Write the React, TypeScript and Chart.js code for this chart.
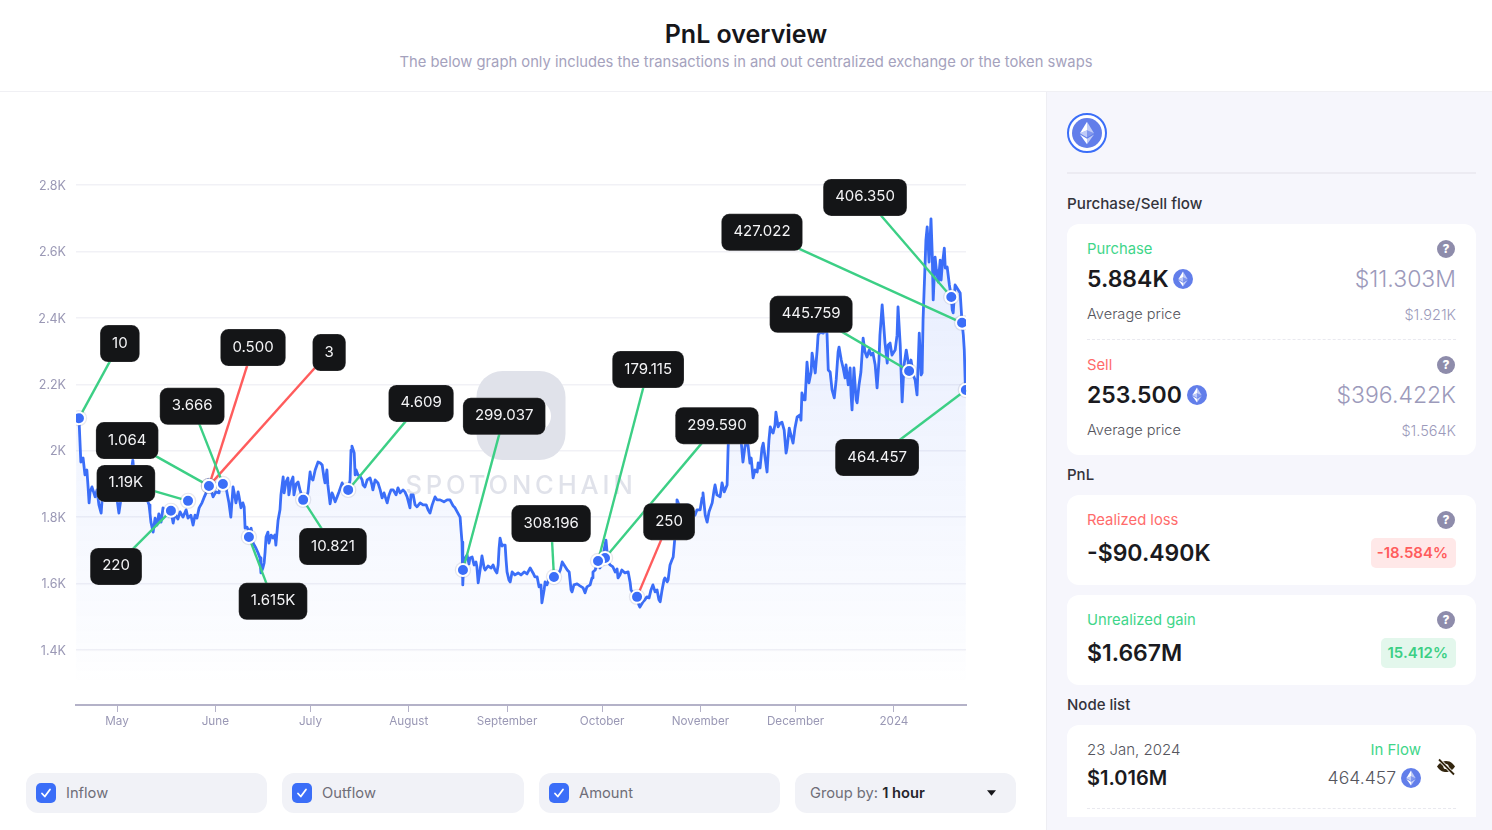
import React, { useEffect, useRef } from "react";
import { Chart, registerables } from "chart.js";

Chart.register(...registerables);

// Days counted from 1 May 2023, prices in USD
const springDays = [-12.9,-12,-11.7,-11.4,-10.7,-10.1,-9.5,-9.1,-8.8,-8.5,-7.9,-6.9,-6.3,-5.7,-5,-4.7,-3.8,-2.2,-1.3,-0.3,0.6,1.3,2.5,4.1,5,5.7,7.3,8.8,9.5,10.1,10.4,10.7,11.4,12,12.6,13.2,13.9,14.5,15.5,16.4,17,17.7,18.3,19.2,19.9,20.8,21.8,22.4,23.3,24,24.6,25.2,25.9,26.8,27.4,28.1,28.7,29.3,30.3,31.2,32.2,32.8,33.4,34.4,35.3,35.9,36.6,37.2,37.5,38.2,38.5,39.1,39.7,40.1,40.4,41,41.6,42.3,42.9,43.8,44.5,45.1,45.4,46,46.4,46.7,47,47.6,47.9,48.6,49.2,49.8,50.1,50.8,51.4,51.7,52.4,52.7,53.3,53.9,54.2,54.9,55.5,55.8,56.5,57.1,57.7,58,58.7,59.3,59.9,60.2,60.9];
const springPrices = [2098,2098,2032,1966,1978,1927,1942,1888,1843,1876,1891,1861,1882,1837,1812,1852,1882,1891,1867,1876,1812,1858,1876,1912,1972,1897,1882,1861,1852,1837,1812,1785,1755,1797,1776,1810,1785,1828,1816,1803,1819,1782,1810,1794,1816,1800,1822,1797,1806,1776,1806,1797,1828,1843,1858,1873,1912,1891,1861,1876,1873,1912,1900,1888,1843,1800,1891,1861,1843,1876,1861,1828,1843,1831,1767,1770,1755,1767,1722,1707,1692,1677,1632,1647,1662,1695,1740,1755,1722,1746,1737,1746,1716,1791,1822,1867,1921,1873,1906,1918,1867,1906,1921,1867,1900,1906,1882,1873,1852,1837,1867,1873,1936];

const summerDays = [61.2,61.8,62.5,63.4,64.1,64.7,65.3,65.6,66.2,66.5,67.2,67.8,68.1,68.8,69.4,70,71,71.9,72.9,73.5,73.8,74.1,74.8,75.1,75.4,76,76.6,77.3,77.6,78.2,78.9,79.8,80.4,80.7,81.4,82.3,83,83.6,84.2,85.2,85.8,86.4,87.1,88,88.6,89.3,90.2,90.8,91.5,92.4,92.7,93.4,94,94.6,95.6,96.5,97.5,98.1,98.7,99.4,100.3,100.9,101.9,103.1,104.1,105,106,106.6,107.5,108.2,108.5,108.8,109,109.1,109.3,109.8,110.4,111,111.3,112,112.6,113.2,113.5,113.9,114.5,115.1,115.8,116.1,117,118,118.6,119.2,119.8,120.2,120.5,120.8,121.4,121.7,122.4,122.7,123,123.6,124,124.6,125.5,126.5,127.4,128.4,129.3,130.3,131.2,131.8,132.5,133.1,133.7,134,134.7,135,135.6,136.3,137.2,137.8,138.8,139.8,140.4,141,142,142.6,143.2,143.5,144.1,145.1,146,147,147.6,148.2,149.2,149.8,150.1,150.8,151.7,152.3];
const summerPrices = [1918,1912,1942,1966,1963,1957,1918,1903,1942,1897,1840,1873,1867,1846,1861,1876,1903,1882,1882,1912,2002,2014,1993,1927,1942,1927,1924,1912,1897,1891,1912,1918,1897,1882,1912,1903,1882,1858,1873,1843,1867,1882,1882,1867,1888,1873,1882,1876,1861,1828,1867,1867,1837,1831,1843,1837,1837,1822,1812,1837,1861,1852,1852,1846,1852,1852,1834,1828,1812,1800,1761,1725,1656,1596,1656,1677,1686,1659,1677,1680,1656,1665,1650,1602,1641,1683,1647,1641,1653,1647,1656,1641,1632,1656,1707,1737,1713,1716,1716,1671,1635,1611,1605,1635,1626,1632,1626,1635,1629,1647,1632,1620,1620,1590,1596,1542,1581,1605,1596,1617,1626,1620,1620,1641,1665,1656,1641,1635,1581,1575,1596,1599,1593,1587,1572,1590,1596,1617,1635,1641,1668,1647];

const autumnDays = [153.3,154.2,154.5,154.9,155.5,156.4,157.1,157.7,158,158.6,159.2,160.2,161.2,161.8,162.1,162.7,163.4,164,164.6,164.9,165.9,166.5,167.1,167.8,168.4,169,169.7,170.3,170.9,171.3,171.9,172.5,172.8,173.5,173.8,174.4,175,175.4,176,176.3,176.6,177.6,178.8,180.1,181.3,182.3,182.9,183.9,184.5,184.8,185.5,186.1,186.7,187.7,188.3,188.6,189.2,190.2,190.8,191.5,192.4,192.7,193,194.3,195.9,196.8,197.4,198.1,199,199.6,200,200.6,201.2,201.9,202.2,202.8,203.4,203.8,204.4,205,205.6,206,206.6,206.9,207.5,207.8,208.5,209.1,209.7,210.4,211,211.3,212,212.3,213.2,213.8,214.5];
const autumnPrices = [1686,1731,1701,1665,1656,1650,1635,1644,1617,1626,1641,1632,1635,1605,1581,1572,1575,1560,1535,1529,1545,1551,1560,1557,1581,1596,1575,1581,1551,1545,1581,1611,1617,1605,1611,1656,1671,1680,1746,1761,1852,1828,1822,1837,1816,1806,1822,1822,1858,1873,1806,1785,1816,1843,1882,1897,1867,1861,1903,1876,1897,2002,2077,2092,2077,2032,1966,2017,2017,1963,1978,1918,1942,1936,1963,1948,2008,2023,1978,1936,2032,2072,2056,2053,2077,2116,2072,2083,2086,2062,1993,2008,2068,2056,2023,2068,2102];

const winterDays = [215.4,215.7,216,216.7,217,217.6,218.2,218.9,219.2,219.8,220.2,220.8,221.1,221.7,222.7,223.3,223.9,224.3,224.9,225.5,226.2,226.8,227.4,227.7,228.4,229,229.6,229.9,230.6,231.2,231.5,231.8,232.4,233.1,233.4,234,234.6,235.3,235.9,236.5,237.2,237.8,238.4,239.1,239.7,240.3,240.6,241.3,241.9,242.2,242.9,243.2,243.8,244.4,245.4,246,246.3,247,247.3,247.6,248.2,248.9,249.5,249.8,250.4,251.1,251.7,252.3,252.7,253,253.6,253.9,254.2,254.8,255.1,255.5,256.1,256.7,257.1,257.4,258,258.4,259,259.6,259.9,260.2,260.9,261.2,261.8,262.5,263.1,263.4,263.7,264.3,265.3,265.9,266.5,266.9,267.2,267.5,267.7];
const winterPrices = [2108,2092,2174,2153,2153,2267,2204,2237,2294,2258,2234,2303,2348,2357,2354,2363,2354,2243,2237,2183,2159,2213,2297,2312,2273,2249,2219,2258,2198,2249,2168,2123,2249,2153,2144,2198,2237,2339,2297,2282,2303,2288,2294,2258,2189,2273,2348,2439,2363,2324,2264,2318,2324,2288,2303,2348,2433,2318,2228,2147,2258,2303,2267,2240,2273,2228,2213,2168,2273,2354,2228,2234,2394,2553,2634,2674,2568,2698,2589,2454,2583,2544,2508,2574,2514,2553,2610,2550,2553,2499,2463,2424,2415,2499,2484,2475,2385,2348,2303,2204,2183];

const days = [...springDays, ...summerDays, ...autumnDays, ...winterDays];
const prices = [...springPrices, ...summerPrices, ...autumnPrices, ...winterPrices];

// Chart nodes
const nodeLabels = ["10","220","1.19K","1.064","0.500","3","3.666","1.615K","10.821","4.609","299.037","308.196","299.590","179.115","250","445.759","406.350","427.022","464.457"];
const nodeDays = [-12,17,22.4,29,29,29,33.4,41.6,58.7,72.9,109.1,137.8,153.9,151.7,164,249.8,263.1,266.5,267.7];
const nodePrices = [2098,1819,1849,1894,1894,1894,1900,1740,1852,1882,1641,1620,1677,1668,1560,2240,2463,2385,2183];
const nodeFlows = ["in","in","in","in","out","out","in","in","in","in","in","in","in","in","out","in","in","in","in"];
const calloutDays = [0.9,-0.3,2.8,3.2,42.9,66.9,23.7,49.2,68.1,95.9,122.1,136.9,189.2,167.5,174.1,218.9,235.9,203.4,239.7];
const calloutPrices = [2324,1653,1903,2032,2312,2297,2135,1548,1713,2144,2105,1782,2077,2246,1788,2412,2764,2659,1981];

const monthDays = [0,31,61,92,123,153,184,214,245];
const monthLabels = ["May","June","July","August","September","October","November","December","2024"];
const priceTicks = [1400,1600,1800,2000,2200,2400,2600,2800];
const priceTickLabels = ["1.4K","1.6K","1.8K","2K","2.2K","2.4K","2.6K","2.8K"];

const BLUE = "#3b6ef8";
const GREEN = "#3ccf85";
const RED = "#ff5c5c";
const FONT = "Inter, sans-serif";

const overlayPlugin = {
  id: "pnlOverlay",
  beforeDatasetsDraw(chart: any) {
    const { ctx, chartArea } = chart;
    const cx = (chartArea.left + chartArea.right) / 2;
    ctx.save();
    ctx.fillStyle = "#e0e2ea";
    ctx.beginPath();
    ctx.roundRect(cx - 44.5, 279, 89, 89, 26);
    ctx.fill();
    ctx.fillStyle = "#ffffff";
    ctx.beginPath();
    ctx.arc(cx + 14, 324, 16, 0, Math.PI * 2);
    ctx.fill();
    ctx.fillStyle = "#e0e2ea";
    ctx.font = `500 25.5px ${FONT}`;
    ctx.textAlign = "center";
    ctx.textBaseline = "middle";
    ctx.letterSpacing = "3.9px";
    ctx.fillText("SPOTONCHAIN", cx, 394.5);
    ctx.restore();
  },
  afterDatasetDraw(chart: any, args: any) {
    if (args.index !== 0) return;
    const { ctx, scales, chartArea } = chart;
    ctx.save();
    ctx.lineWidth = 2.4;
    nodeLabels.forEach((_, i) => {
      ctx.strokeStyle = nodeFlows[i] === "in" ? GREEN : RED;
      ctx.beginPath();
      ctx.moveTo(scales.x.getPixelForValue(calloutDays[i]), scales.y.getPixelForValue(calloutPrices[i]));
      ctx.lineTo(scales.x.getPixelForValue(nodeDays[i]), scales.y.getPixelForValue(nodePrices[i]));
      ctx.stroke();
    });
    // soft halo under the node markers
    ctx.beginPath();
    ctx.rect(chartArea.left, chartArea.top, chartArea.right - chartArea.left, chartArea.bottom - chartArea.top);
    ctx.clip();
    ctx.fillStyle = "rgba(110,110,140,0.16)";
    nodeLabels.forEach((_, i) => {
      ctx.beginPath();
      ctx.arc(scales.x.getPixelForValue(nodeDays[i]), scales.y.getPixelForValue(nodePrices[i]), 8.2, 0, Math.PI * 2);
      ctx.fill();
    });
    ctx.restore();
  },
  afterDatasetsDraw(chart: any) {
    const { ctx, scales } = chart;
    ctx.save();
    ctx.font = `400 15px ${FONT}`;
    ctx.textAlign = "center";
    ctx.textBaseline = "middle";
    nodeLabels.forEach((label, i) => {
      const x = scales.x.getPixelForValue(calloutDays[i]);
      const y = scales.y.getPixelForValue(calloutPrices[i]);
      const w = ctx.measureText(label).width + 24;
      ctx.fillStyle = "#141517";
      ctx.strokeStyle = "rgba(255,255,255,0.18)";
      ctx.lineWidth = 1;
      ctx.beginPath();
      ctx.roundRect(x - w / 2, y - 18, w, 37, 8);
      ctx.fill();
      ctx.stroke();
      ctx.fillStyle = "#f4f4f6";
      ctx.fillText(label, x, y);
    });
    ctx.restore();
  },
};

function PnlChart() {
  const ref = useRef<HTMLCanvasElement>(null);
  useEffect(() => {
    const chart = new Chart(ref.current as HTMLCanvasElement, {
      type: "line",
      plugins: [overlayPlugin],
      data: {
        datasets: [
          {
            data: days.map((d, i) => ({ x: d, y: prices[i] })),
            borderColor: BLUE,
            borderWidth: 2.8,
            borderJoinStyle: "round",
            pointRadius: 0,
            tension: 0,
            fill: "start",
            order: 2,
            backgroundColor: (c: any) => {
              const area = c.chart.chartArea;
              if (!area) return "transparent";
              const g = c.chart.ctx.createLinearGradient(0, area.top + 100, 0, area.bottom - 20);
              g.addColorStop(0, "rgba(59,110,248,0.13)");
              g.addColorStop(0.9, "rgba(59,110,248,0.02)");
              g.addColorStop(1, "rgba(59,110,248,0)");
              return g;
            },
          },
          {
            data: nodeDays.map((d, i) => ({ x: d, y: nodePrices[i] })),
            showLine: false,
            pointRadius: 6,
            pointBorderWidth: 2,
            pointBackgroundColor: BLUE,
            pointBorderColor: "#ffffff",
            order: 1,
          },
        ],
      } as any,
      options: {
        animation: false,
        responsive: false,
        layout: { padding: { left: 0, right: 80, top: 26.57, bottom: 0 } },
        plugins: { legend: { display: false }, title: { display: false }, tooltip: { enabled: false } },
        scales: {
          x: {
            type: "linear",
            min: -12.93,
            max: 267.74,
            afterBuildTicks: (s: any) => { s.ticks = monthDays.map((value) => ({ value })); },
            afterFit: (s: any) => { s.height = 27; },
            grid: { drawOnChartArea: false, drawTicks: true, tickLength: 7, color: "#b4b2c8" },
            border: { display: true, color: "#b4b2c8", width: 2 },
            ticks: {
              autoSkip: false,
              maxRotation: 0,
              padding: 2,
              color: "#9a98b5",
              font: { family: FONT, size: 11.7 },
              callback: (v: any) => monthLabels[monthDays.indexOf(v)],
            },
          },
          y: {
            type: "linear",
            min: 1234.4,
            max: 3000,
            afterBuildTicks: (s: any) => { s.ticks = priceTicks.map((value) => ({ value })); },
            afterFit: (s: any) => { s.width = 76; },
            grid: { drawTicks: false, color: "#f1f1f6", lineWidth: 1.5 },
            border: { display: false },
            ticks: {
              padding: 10,
              labelOffset: 1,
              color: "#9a98b5",
              font: { family: FONT, size: 12.5 },
              callback: (v: any) => priceTickLabels[priceTicks.indexOf(v)],
            },
          },
        },
      } as any,
    });
    return () => chart.destroy();
  }, []);
  return (
    <canvas
      ref={ref}
      width={1046}
      height={640}
      style={{ position: "absolute", left: 0, top: 92, width: 1046, height: 640, display: "block" }}
    />
  );
}

type TextProps = { x?: number; right?: number; y: number; size: number; weight?: number; color: string; children: React.ReactNode };
function T({ x, right, y, size, weight = 400, color, children }: TextProps) {
  return (
    <div
      style={{
        position: "absolute",
        left: x,
        right: right !== undefined ? 1492 - right : undefined,
        top: y,
        transform: "translateY(-50%)",
        fontSize: size,
        fontWeight: weight,
        color,
        whiteSpace: "nowrap",
        lineHeight: 1.2,
      }}
    >
      {children}
    </div>
  );
}

function Box({ x, y, w, h, r = 12, bg = "#fff", extra }: { x: number; y: number; w: number; h: number; r?: number | string; bg?: string; extra?: any }) {
  return <div style={{ position: "absolute", left: x, top: y, width: w, height: h, borderRadius: r, background: bg, ...extra }} />;
}

function EthIcon({ cx, cy, r = 10 }: { cx: number; cy: number; r?: number }) {
  return (
    <svg style={{ position: "absolute", left: cx - r, top: cy - r }} width={r * 2} height={r * 2} viewBox="0 0 32 32">
      <circle cx="16" cy="16" r="16" fill="#627eea" />
      <path d="M16 4v9l7.5 3.3z" fill="#fff" fillOpacity=".6" />
      <path d="M16 4L8.5 16.3 16 13z" fill="#fff" />
      <path d="M16 22.1v5.9l7.5-10.4z" fill="#fff" fillOpacity=".6" />
      <path d="M16 28v-5.9l-7.5-4.5z" fill="#fff" />
      <path d="M16 20.7l7.5-4.4L16 13z" fill="#fff" fillOpacity=".2" />
      <path d="M8.5 16.3l7.5 4.4V13z" fill="#fff" fillOpacity=".6" />
    </svg>
  );
}

function Help({ cx, cy }: { cx: number; cy: number }) {
  return (
    <div
      style={{
        position: "absolute", left: cx - 9, top: cy - 9, width: 18, height: 18, borderRadius: 9,
        background: "#8e8cab", color: "#fff", fontSize: 12, fontWeight: 800, textAlign: "center", lineHeight: "18px",
      }}
    >
      ?
    </div>
  );
}

function Dashed({ y }: { y: number }) {
  return <div style={{ position: "absolute", left: 1087, width: 369, top: y, borderTop: "1px dashed #e9e9ef" }} />;
}

function CheckPill({ x, w, label }: { x: number; w: number; label: string }) {
  return (
    <>
      <Box x={x} y={773} w={w} h={40} bg="#f1f2f7" />
      <div style={{ position: "absolute", left: x + 10, top: 783, width: 20, height: 20, borderRadius: 5, background: BLUE }}>
        <svg width="20" height="20" viewBox="0 0 20 20">
          <path d="M6 10.5l2.8 3L14 6.5" stroke="#fff" strokeWidth="1.8" fill="none" strokeLinecap="round" strokeLinejoin="round" />
        </svg>
      </div>
      <T x={x + 40} y={794} size={14.7} color="#6f6e78">{label}</T>
    </>
  );
}

export default function App() {
  return (
    <div style={{ position: "relative", width: 1492, height: 830, overflow: "hidden", background: "#fff", fontFamily: FONT }}>
      <style>{`html,body{margin:0;padding:0;overflow:hidden;background:#fff}`}</style>

      {/* Header */}
      <div style={{ position: "absolute", left: 0, right: 0, top: 19, textAlign: "center", fontSize: 25, fontWeight: 600, color: "#16161a", lineHeight: "30px" }}>PnL overview</div>
      <div style={{ position: "absolute", left: 0, right: 0, top: 52, textAlign: "center", fontSize: 14.75, color: "#a5a2bd", lineHeight: "20px" }}>
        The below graph only includes the transactions in and out centralized exchange or the token swaps
      </div>
      <Box x={0} y={91} w={1492} h={1} r={0} bg="#f0f0f4" />

      <PnlChart />

      {/* Controls */}
      <CheckPill x={26} w={241} label="Inflow" />
      <CheckPill x={282} w={242} label="Outflow" />
      <CheckPill x={539} w={241} label="Amount" />
      <Box x={795} y={773} w={221} h={40} bg="#f1f2f7" />
      <T x={810} y={794} size={14.7} color="#6f6e78">
        Group by: <span style={{ fontWeight: 600, color: "#25252b" }}>1 hour</span>
      </T>
      <svg style={{ position: "absolute", left: 987, top: 790 }} width="9" height="6" viewBox="0 0 10 6">
        <path d="M0 0h10L5 6z" fill="#16161a" />
      </svg>

      {/* Sidebar */}
      <Box x={1046} y={92} w={446} h={738} r={0} bg="#f6f6fc" extra={{ borderLeft: "1px solid #eeeef3", boxSizing: "border-box" }} />
      <div style={{ position: "absolute", left: 1067, top: 113, width: 40, height: 40, borderRadius: 20, border: "2px solid " + BLUE, boxSizing: "border-box", background: "#fff" }} />
      <EthIcon cx={1087} cy={133} r={15} />
      <Box x={1067} y={172} w={409} h={2} r={0} bg="#ecebf2" />

      <T x={1067} y={204} size={15.2} weight={500} color="#33333b">Purchase/Sell flow</T>
      <Box x={1067} y={224} w={409} h={231} />
      <T x={1087} y={250} size={14.8} color="#3fd68a">Purchase</T>
      <Help cx={1446} cy={249} />
      <T x={1087} y={280} size={23} weight={600} color="#1a1a20">5.884K</T>
      <EthIcon cx={1183} cy={279} />
      <T right={1456} y={280} size={23} weight={300} color="#9c9abb">$11.303M</T>
      <T x={1087} y={315} size={14.6} weight={300} color="#55555d">Average price</T>
      <T right={1456} y={315} size={14.5} weight={300} color="#9c9abb">$1.921K</T>
      <Dashed y={339} />
      <T x={1087} y={366} size={14.8} color="#ff6b6b">Sell</T>
      <Help cx={1446} cy={365} />
      <T x={1087} y={396} size={23} weight={600} color="#1a1a20">253.500</T>
      <EthIcon cx={1197} cy={395} />
      <T right={1456} y={396} size={23} weight={300} color="#9c9abb">$396.422K</T>
      <T x={1087} y={431} size={14.6} weight={300} color="#55555d">Average price</T>
      <T right={1456} y={431} size={14.5} weight={300} color="#9c9abb">$1.564K</T>

      <T x={1067} y={475} size={15} weight={500} color="#33333b">PnL</T>
      <Box x={1067} y={495} w={409} h={90} />
      <T x={1087} y={521} size={14.8} color="#ff6b6b">Realized loss</T>
      <Help cx={1446} cy={520} />
      <T x={1087} y={554} size={23} weight={600} color="#1a1a20">-$90.490K</T>
      <Box x={1371} y={538} w={85} h={30} r={5} bg="#ffe8e8" />
      <T right={1448} y={553} size={15} weight={600} color={RED}>-18.584%</T>

      <Box x={1067} y={595} w={409} h={90} />
      <T x={1087} y={621} size={14.8} color="#3fd68a">Unrealized gain</T>
      <Help cx={1446} cy={620} />
      <T x={1087} y={654} size={23} weight={600} color="#1a1a20">$1.667M</T>
      <Box x={1381} y={638} w={75} h={30} r={5} bg="#e3f7ec" />
      <T right={1448} y={653} size={15} weight={600} color={GREEN}>15.412%</T>

      <T x={1067} y={705} size={15} weight={500} color="#33333b">Node list</T>
      <Box x={1067} y={725} w={409} h={92} r="12px 12px 0 0" />
      <T x={1087} y={750} size={15} weight={300} color="#55555d">23 Jan, 2024</T>
      <T right={1421} y={750} size={15} color="#3fd68a">In Flow</T>
      <T x={1087} y={778} size={20} weight={600} color="#1a1a20">$1.016M</T>
      <T right={1396} y={778} size={17.6} weight={300} color="#55555d">464.457</T>
      <EthIcon cx={1411} cy={778} />
      <svg style={{ position: "absolute", left: 1436, top: 757 }} width="20" height="20" viewBox="0 0 20 20">
        <path d="M1 9.5C4 5 7 4 10 4s6 1 9 5.5C16 14 13 15 10 15s-6-1-9-5.5z" fill="#33260f" />
        <circle cx="10" cy="9.5" r="2.6" fill="#fff" />
        <path d="M3 2.5l15 15" stroke="#fff" strokeWidth="3.4" />
        <path d="M3 2.5l15 15" stroke="#33260f" strokeWidth="1.8" />
      </svg>
      <Dashed y={808} />
    </div>
  );
}
